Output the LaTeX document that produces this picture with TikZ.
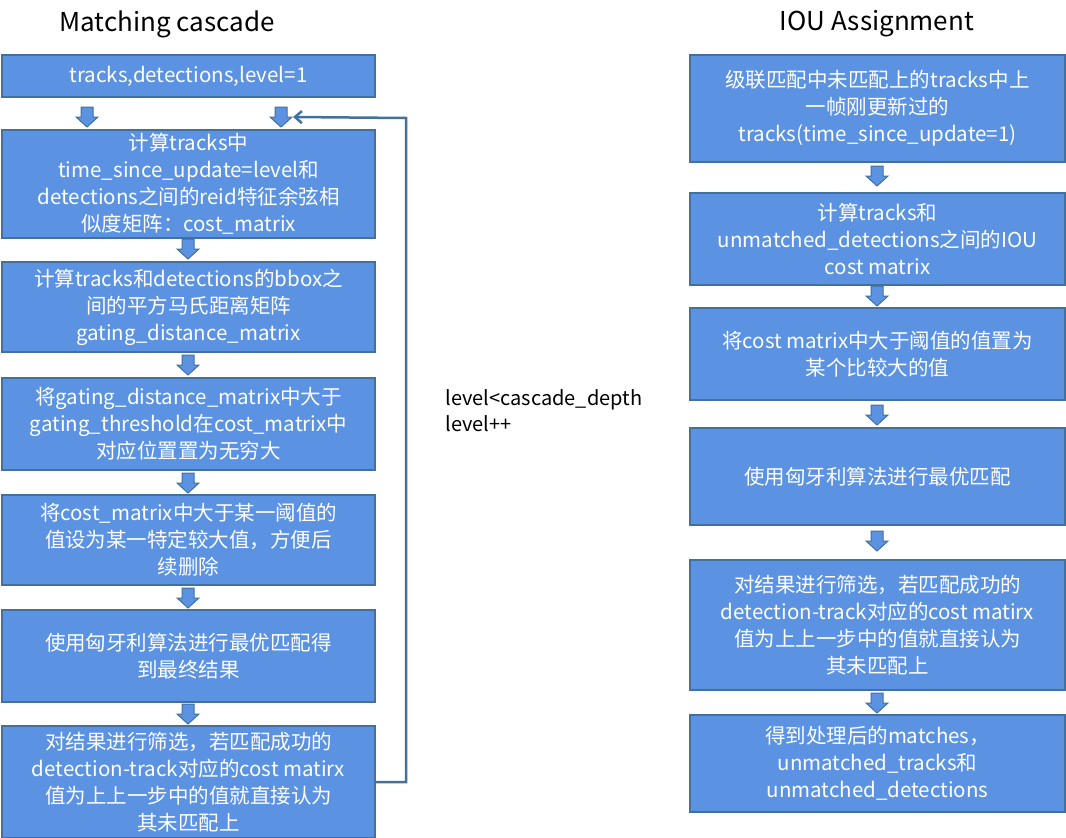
\documentclass[tikz,border=0pt]{standalone}
\usepackage{fontspec}
\setmainfont{Noto Sans CJK SC}
\usetikzlibrary{arrows.meta}
\definecolor{bfill}{HTML}{5B93E2}
\definecolor{bdraw}{HTML}{41719C}
\begin{document}
\begin{tikzpicture}[x=1pt,y=-1pt,
  box/.style={draw=bdraw,line width=1.5pt,fill=bfill,text=white,align=center,font=\fontsize{20.5}{27}\selectfont,inner sep=0pt},
  barr/.style={draw=bdraw,fill=bfill,line width=1pt},
  ttl/.style={font=\fontsize{26}{30}\selectfont}]
\useasboundingbox (0,0) rectangle (1066,838);
\newcommand\bx[6]{\node[box,minimum width=#3-#2,minimum height=#5-#4] (#1) at ({(#2+#3)/2},{(#4+#5)/2}) {#6};}
\newcommand\barw[3]{\coordinate (#1) at (#2,#3);
  \draw[barr] (#1) ++(-6,-10) -- ++(12,0) -- ++(0,10) -- ++(5,0) -- ++(-11,10) -- ++(-11,-10) -- ++(5,0) -- cycle;}
\node[ttl] (t1) at (167,24) {Matching cascade};
\node[ttl] (t2) at (877,24) {IOU Assignment};
\bx{a1}{2}{375}{55}{97}{tracks,detections,level=1}
\bx{a2}{2}{375}{130}{238}{计算tracks中\\time\_since\_update=level和\\detections之间的reid特征余弦相\\似度矩阵：cost\_matrix}
\bx{a3}{2}{375}{262}{352}{计算tracks和detections的bbox之\\间的平方马氏距离矩阵\\gating\_distance\_matrix}
\bx{a4}{2}{375}{378}{470}{将gating\_distance\_matrix中大于\\gating\_threshold在cost\_matrix中\\对应位置置为无穷大}
\bx{a5}{2}{375}{495}{585}{将cost\_matrix中大于某一阈值的\\值设为某一特定较大值，方便后\\续删除}
\bx{a6}{2}{375}{610}{702}{使用匈牙利算法进行最优匹配得\\到最终结果}
\bx{a7}{2}{375}{726}{838}{对结果进行筛选，若匹配成功的\\detection-track对应的cost matirx\\值为上上一步中的值就直接认为\\其未匹配上}
\barw{p1}{87}{117}
\barw{p2}{281}{117}
\barw{p3}{188}{249}
\barw{p4}{188}{365}
\barw{p5}{188}{483}
\barw{p6}{188}{598}
\barw{p7}{188}{714}
\coordinate (c1) at (406,782);
\coordinate (c2) at (406,118);
\draw[bdraw,line width=2.5pt,-{Straight Barb[length=7pt,width=12pt]}] (a7.east|-c1) -- (c1) -- (c2) -- ([xshift=12pt]p2);
\node[align=left,anchor=west,font=\fontsize{20}{26}\selectfont] (lv) at (442,411) {level<cascade\_depth\\level++};
\bx{b1}{690}{1065}{55}{162}{级联匹配中未匹配上的tracks中上\\一帧刚更新过的\\tracks(time\_since\_update=1)}
\bx{b2}{690}{1065}{193}{285}{计算tracks和\\unmatched\_detections之间的IOU\\cost matrix}
\bx{b3}{690}{1065}{308}{400}{将cost matrix中大于阈值的值置为\\某个比较大的值}
\bx{b4}{690}{1065}{428}{525}{使用匈牙利算法进行最优匹配}
\bx{b5}{690}{1065}{560}{690}{对结果进行筛选，若匹配成功的\\detection-track对应的cost matirx\\值为上上一步中的值就直接认为\\其未匹配上}
\bx{b6}{690}{1065}{715}{812}{得到处理后的matches，\\unmatched\_tracks和\\unmatched\_detections}
\barw{q1}{877}{176}
\barw{q2}{877}{296}
\barw{q3}{877}{415}
\barw{q4}{877}{541}
\barw{q5}{877}{703}
\end{tikzpicture}
\end{document}
